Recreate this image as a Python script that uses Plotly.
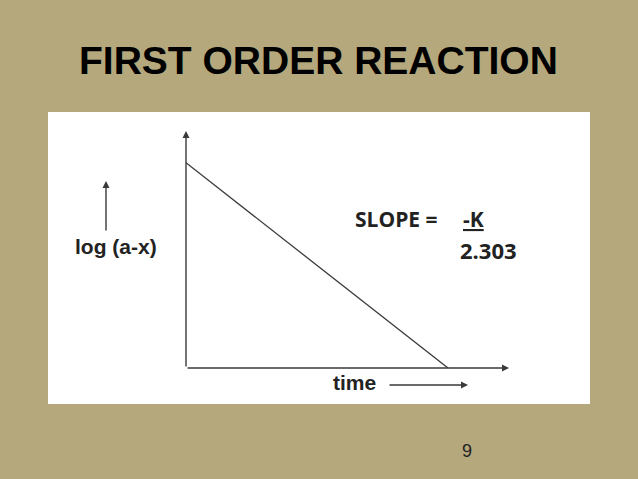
import plotly.graph_objects as go

# Slide size in pixels
W, H = 638, 479

# Data: straight line of log(a-x) against time for a first order reaction
time = [0, 10]
log_ax = [2.0, 0]

title_text = "FIRST ORDER REACTION"
page_number = "9"


def px(x):
    return x / W


def py(y):
    return 1 - y / H


fig = go.Figure()

# The line itself, plotted on axes placed over the white panel
fig.add_trace(go.Scatter(x=time, y=log_ax, mode="lines",
                         line=dict(color="#3a3a3a", width=1.3),
                         hoverinfo="skip", showlegend=False))

fig.update_layout(
    width=W, height=H,
    margin=dict(l=0, r=0, t=0, b=0),
    paper_bgcolor="#b5a87c",
    plot_bgcolor="rgba(0,0,0,0)",
    xaxis=dict(domain=[px(186), px(508)], range=[0, 12.29],
               visible=False, fixedrange=True),
    yaxis=dict(domain=[py(368), py(132)], range=[0, 2.30],
               visible=False, fixedrange=True),
)

# White panel behind the chart
fig.add_shape(type="rect", xref="paper", yref="paper",
              x0=px(48), x1=px(590), y0=py(404), y1=py(112),
              fillcolor="white", line_width=0, layer="below")

arrow = dict(showarrow=True, arrowhead=2, arrowsize=1, arrowwidth=1.4,
             arrowcolor="#3a3a3a", text="", xref="paper", yref="paper",
             axref="pixel", ayref="pixel")

# y axis arrow (from origin up) and x axis arrow (from origin right)
fig.add_annotation(x=px(186), y=py(131), ax=0, ay=368 - 131, **arrow)
fig.add_annotation(x=px(509), y=py(368), ax=-(509 - 186), ay=0, **arrow)
# small arrows beside the axis labels
fig.add_annotation(x=px(106), y=py(181), ax=0, ay=232 - 181, **arrow)
fig.add_annotation(x=px(468), y=py(385), ax=-(468 - 388), ay=0, **arrow)


def label(x, y, text, font):
    fig.add_annotation(x=px(x), y=py(y), xref="paper", yref="paper",
                       xanchor="center", yanchor="middle",
                       text=text, showarrow=False, font=font)


label_font = dict(family="Liberation Sans", size=21, color="#222222")
label(116, 246, "<b>log (a-x)</b>", label_font)
label(354, 382, "<b>time</b>", label_font)

slope_font = dict(family="Open Sans", size=21, color="#222222")
label(396, 219, "<b>SLOPE =</b>", slope_font)
label(473, 219, "<b><u>-K</u></b>", slope_font)
label(488, 250, "<b>2.303</b>", dict(slope_font, size=22))

# Slide title and page number
label(318, 60, "<b>" + title_text + "</b>",
      dict(family="Liberation Sans", size=39, color="#000000"))
label(467, 451, page_number,
      dict(family="Liberation Sans", size=18, color="#222222"))

fig.write_html("out.html", config={"displayModeBar": False},
               post_script="document.body.style.margin='0';")
